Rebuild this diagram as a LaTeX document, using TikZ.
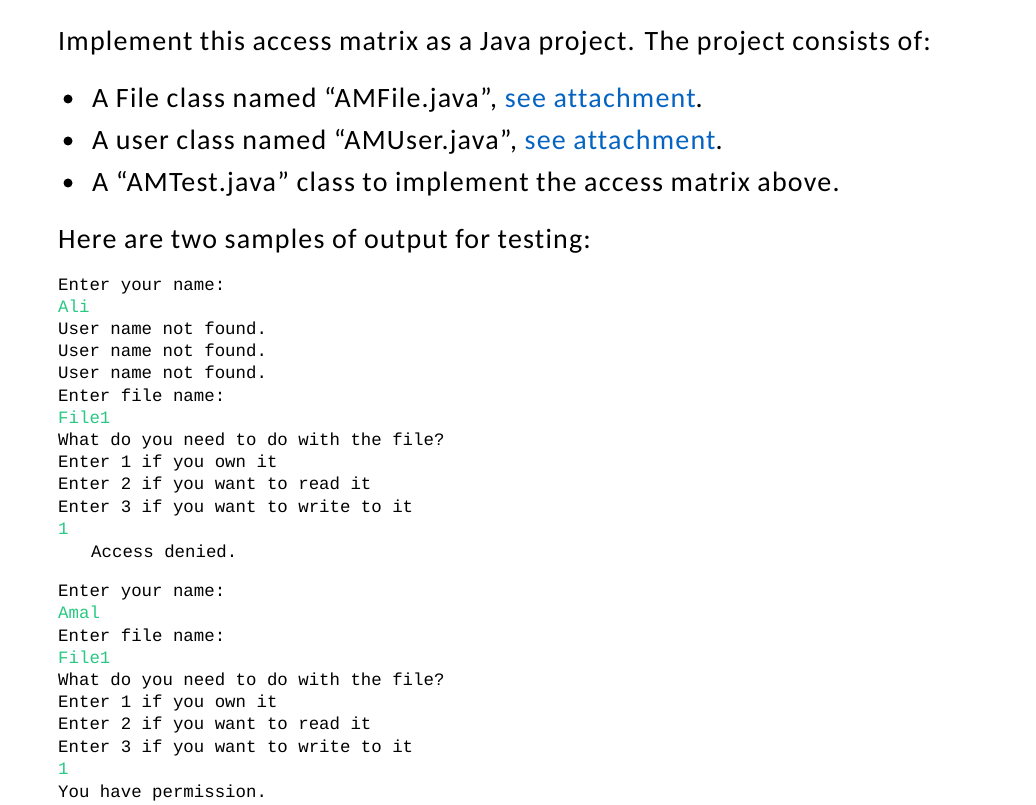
\documentclass[tikz,border=0pt]{standalone}
\usepackage{fontspec}
\setmainfont{Carlito}[LetterSpace=4.3,Ligatures=NoCommon]
\setmonofont{Liberation Mono}
\definecolor{linkblue}{RGB}{5,99,193}
\definecolor{ingreen}{RGB}{40,200,130}
\begin{document}
\begin{tikzpicture}[x=1pt,y=-1pt,
  big/.style={anchor=base west,inner sep=0pt,font=\fontsize{28}{30}\selectfont},
  mono/.style={anchor=base west,inner sep=0pt,font=\ttfamily\fontsize{17.4}{20}\selectfont},
  inp/.style={mono,text=ingreen}]
\useasboundingbox (0,0) rectangle (1036,805);
\node[big] (h1) at (58,51) {Implement this access matrix as a Java project. The project consists of:};
\foreach \y in {108,150,192} \fill (68,\y-9) circle (4.5);
\node[big] (b1) at (92,108) {A File class named “AMFile.java”, \textcolor{linkblue}{see attachment}.};
\node[big] (b2) at (92,150) {A user class named “AMUser.java”, \textcolor{linkblue}{see attachment}.};
\node[big] (b3) at (92,192) {A “AMTest.java” class to implement the access matrix above.};
\node[big] (h2) at (58,248) {Here are two samples of output for testing:};
\node[mono] (m1) at (58,290) {Enter your name:};
\node[inp] (m2) at (58,312) {Ali};
\node[mono] (m3) at (58,334) {User name not found.};
\node[mono] (m4) at (58,356) {User name not found.};
\node[mono] (m5) at (58,378) {User name not found.};
\node[mono] (m6) at (58,401) {Enter file name:};
\node[inp] (m7) at (58,423) {File1};
\node[mono] (m8) at (58,445) {What do you need to do with the file?};
\node[mono] (m9) at (58,467) {Enter 1 if you own it};
\node[mono] (m10) at (58,489) {Enter 2 if you want to read it};
\node[mono] (m11) at (58,512) {Enter 3 if you want to write to it};
\node[inp] (m12) at (58,534) {1};
\node[mono] (m13) at (91,557) {Access denied.};
\node[mono] (n1) at (58,596) {Enter your name:};
\node[inp] (n2) at (58,618) {Amal};
\node[mono] (n3) at (58,641) {Enter file name:};
\node[inp] (n4) at (58,663) {File1};
\node[mono] (n5) at (58,685) {What do you need to do with the file?};
\node[mono] (n6) at (58,707) {Enter 1 if you own it};
\node[mono] (n7) at (58,729) {Enter 2 if you want to read it};
\node[mono] (n8) at (58,752) {Enter 3 if you want to write to it};
\node[inp] (n9) at (58,774) {1};
\node[mono] (n10) at (58,797) {You have permission.};
\end{tikzpicture}
\end{document}
